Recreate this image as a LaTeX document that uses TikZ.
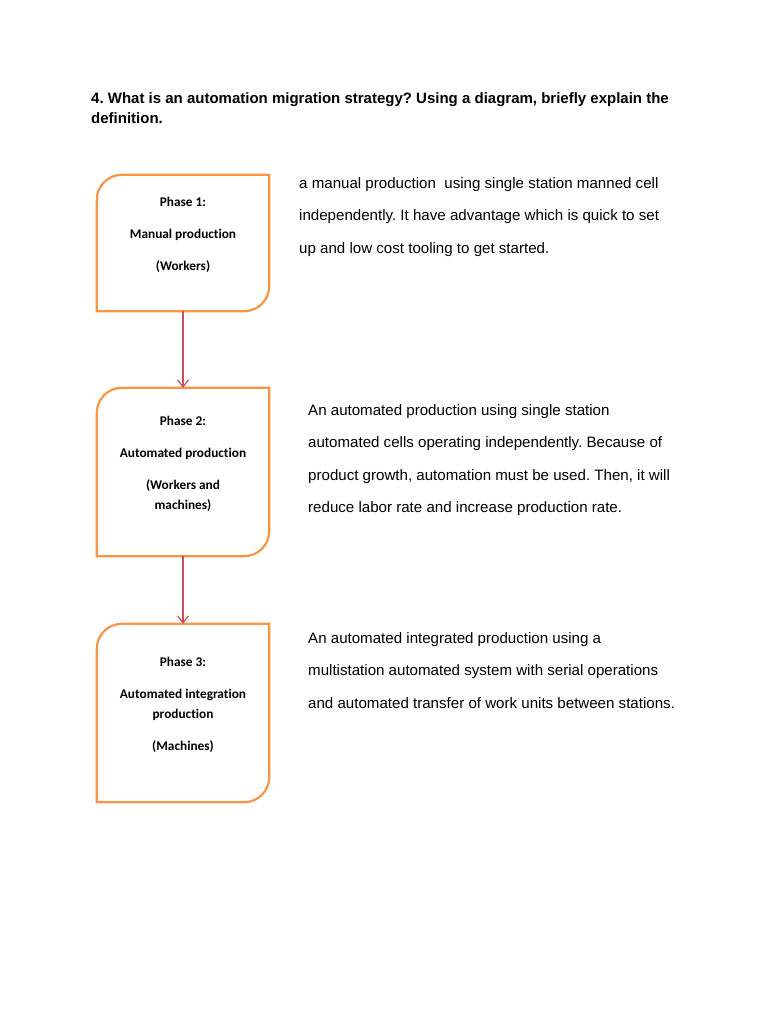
\documentclass[tikz,border=0pt]{standalone}
\usepackage{fontspec}
\setmainfont{Liberation Sans}
\newfontfamily\boxfont[Ligatures=NoCommon]{Carlito}
\usepackage{xcolor}
\definecolor{phaseorange}{RGB}{247,150,70}
\definecolor{arrowred}{RGB}{200,80,90}
\usetikzlibrary{arrows.meta}
\tikzstyle{phase} = [draw=none, inner sep=0pt, minimum width=172pt]
\tikzstyle{phaseline} = [draw=phaseorange, line width=2.2pt]
\tikzstyle{phasetext} = [align=center, inner sep=0pt,
  font=\boxfont\bfseries\fontsize{13.3}{20}\selectfont]
\tikzstyle{desc} = [anchor=north west, align=left, inner sep=0pt,
  font=\fontsize{15.1}{32.3}\selectfont]
\tikzstyle{flow} = [draw=arrowred, line width=1.2pt,
  -{Straight Barb[length=7pt, width=11pt]}]

\begin{document}
\frenchspacing
\begin{tikzpicture}[x=1pt, y=1pt]
  \fill[white] (0,0) rectangle (768,-1024);
  \useasboundingbox (0,0) rectangle (768,-1024);

  \node[anchor=north west, align=left, inner sep=0pt,
    font=\bfseries\fontsize{15}{20}\selectfont] (q) at (91,-92.5)
    {4. What is an automation migration strategy? Using a diagram, briefly explain the\\
     definition.};

  \node[phase, minimum height=136pt] (p1) at (183,-243) {};
  \node[phase, minimum height=168pt] (p2) at (183,-472) {};
  \node[phase, minimum height=178pt] (p3) at (183,-713) {};

  \foreach \p in {p1,p2,p3}
    \draw[phaseline] (\p.south west) -- ([yshift=-25pt]\p.north west)
      arc[start angle=180, end angle=90, radius=25pt] -- (\p.north east)
      -- ([yshift=25pt]\p.south east)
      arc[start angle=0, end angle=-90, radius=25pt] -- cycle;

  \node[phasetext] (t1) at ([yshift=8pt]p1.center)
    {Phase 1:\\[12pt] Manual production\\[12pt] (Workers)};
  \node[phasetext] (t2) at ([yshift=8pt]p2.center)
    {Phase 2:\\[12pt] Automated production\\[12pt] (Workers and\\ machines)};
  \node[phasetext] (t3) at ([yshift=8pt]p3.center)
    {Phase 3:\\[12pt] Automated integration\\ production\\[12pt] (Machines)};

  \path[flow] (p1) -- (p2);
  \path[flow] (p2) -- (p3);

  \node[desc] (d1) at (299,-177.5)
    {a manual production\ \ using single station manned cell\\
     independently. It have advantage which is quick to set\\
     up and low cost tooling to get started.};
  \node[desc] (d2) at (308,-404.5)
    {An automated production using single station\\
     automated cells operating independently. Because of\\
     product growth, automation must be used. Then, it will\\
     reduce labor rate and increase production rate.};
  \node[desc] (d3) at (308,-632.5)
    {An automated integrated production using a\\
     multistation automated system with serial operations\\
     and automated transfer of work units between stations.};
%  \draw[red] (97,-175) rectangle (269,-311);
\end{tikzpicture}
\end{document}
